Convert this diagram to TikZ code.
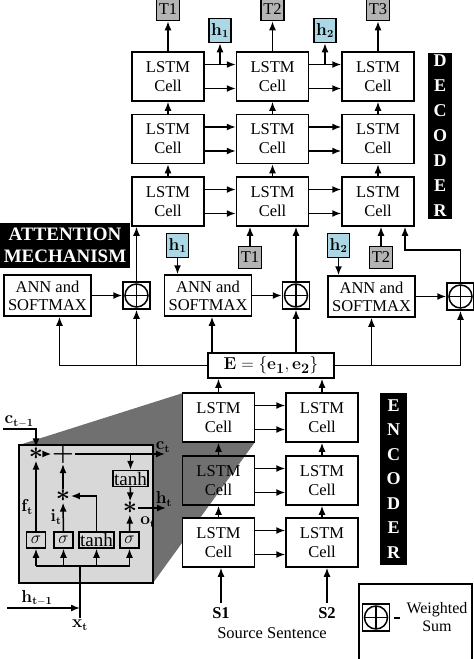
\documentclass[tikz,border=0pt]{standalone}
\usepackage[no-math]{fontspec}
\setmainfont{Liberation Serif}
\usepackage{amsmath}
\usepackage{amssymb}
\usepackage{bm}
\usetikzlibrary{calc,positioning,arrows.meta}

\definecolor{tgray}{RGB}{180,180,180}
\definecolor{hblue}{RGB}{172,216,230}
\definecolor{zoomdark}{RGB}{112,112,112}
\definecolor{zoomlight}{RGB}{216,216,216}

\tikzset{
  arr/.style={-{Latex[length=9pt,width=7pt]}},
  cell/.style={draw,fill=white,minimum width=72pt,minimum height=49pt,inner sep=0pt,align=center},
  annbox/.style={draw,fill=white,minimum width=87pt,minimum height=41pt,inner sep=0pt,align=center,font=\fontsize{16.5}{18}\selectfont},
  tbox/.style={draw,fill=tgray,minimum width=23pt,minimum height=22pt,inner sep=0pt},
  hbox/.style={draw,fill=hblue,minimum width=22pt,minimum height=24pt,inner sep=0pt,font=\fontsize{16}{16}\selectfont},
  wsum/.style={draw,fill=white,minimum width=27pt,minimum height=27pt,inner sep=0pt,
    path picture={
      \coordinate (pc) at (path picture bounding box.center);
      \draw (pc) circle (11.5pt);
      \draw ([yshift=11.5pt]pc) -- ([yshift=-11.5pt]pc);
      \draw ([xshift=-11.5pt]pc) -- ([xshift=11.5pt]pc);
    }},
  blk/.style={fill=black,text=white,inner sep=0pt,align=center},
  gate/.style={draw,minimum width=19pt,minimum height=16pt,inner sep=1pt,font=\fontsize{19}{19}\selectfont},
  op/.style={inner sep=0pt,minimum size=10pt,font=\fontsize{28}{28}\selectfont},
  lbl/.style={inner sep=1pt,font=\fontsize{16}{16}\selectfont}
}

\begin{document}
\begin{tikzpicture}[x=1pt,y=-1pt,line width=1.5pt,font=\fontsize{16.5}{19}\selectfont]
    \useasboundingbox (0,0) rectangle (474,659);

    % zoom shading behind the encoder
    \fill[zoomdark] (19,445) -- (183,393) -- (255,442) -- (153,583) -- cycle;
    \draw[fill=zoomlight] (19,445) rectangle (153,583);

    % decoder
    \foreach \c/\x in {1/168,2/272.5,3/378}{
      \foreach \r/\y in {1/76.5,2/139,3/201.5}{
        \node[cell] (d\r\c) at (\x,\y) {LSTM\\Cell};
      }
    }
    \foreach \r in {1,2,3}{
      \foreach \c/\n in {1/2,2/3}{
        \draw[arr] ([yshift=12pt]d\r\c.east) -- ([yshift=12pt]d\r\n.west);
        \draw[arr] ([yshift=-12pt]d\r\c.east) -- ([yshift=-12pt]d\r\n.west);
      }
    }
    \foreach \c/\t in {1/T1,2/T2,3/T3}{
      \draw[arr] (d3\c) -- (d2\c);
      \draw[arr] (d2\c) -- (d1\c);
      \node[tbox,above=30pt of d1\c] (t\c) {\t};
      \draw[arr] (d1\c) -- (t\c);
    }
    \node[hbox] (h1a) at (220,30.5) {$\mathbf{h_1}$};
    \node[hbox] (h2a) at (325,30.5) {$\mathbf{h_2}$};
    \coordinate (o1) at ([yshift=12pt]d11.east);
    \coordinate (o2) at ([yshift=12pt]d12.east);
    \draw[arr] (o1 -| h1a) -- (h1a);
    \draw[arr] (o2 -| h2a) -- (h2a);
    \node[blk,minimum width=24pt,minimum height=166pt,font=\bfseries\fontsize{18}{25}\selectfont] (dec) at (440,136) {D\\E\\C\\O\\D\\E\\R};

    % attention
    \node[blk,minimum width=130pt,minimum height=45pt,font=\bfseries\fontsize{19}{22}\selectfont] (att) at (65,245.5) {ATTENTION\\MECHANISM};
    \node[annbox] (ann1) at (47.5,295.5) {ANN and\\SOFTMAX};
    \node[annbox] (ann2) at (208,295.5) {ANN and\\SOFTMAX};
    \node[annbox] (ann3) at (371.5,296.5) {ANN and\\SOFTMAX};
    \node[wsum] (s1) at (136.5,295.5) {};
    \node[wsum] (s2) at (296,295.5) {};
    \node[wsum] (s3) at (460.5,296.5) {};
    \foreach \i in {1,2,3}{
      \draw[arr] (ann\i) -- (s\i);
    }
    \node[hbox] (h1b) at (177.5,245.5) {$\mathbf{h_1}$};
    \node[hbox] (h2b) at (338.5,245.5) {$\mathbf{h_2}$};
    \node[tbox] (t1b) at (250,257.5) {T1};
    \node[tbox] (t2b) at (381,257.5) {T2};
    \draw[arr] (h1b) -- (h1b |- ann2.north);
    \draw[arr] (h2b) -- (h2b |- ann3.north);
    \draw[arr] (t1b) -- (t1b |- d32.south);
    \draw[arr] (t2b) -- (t2b |- d33.south);
    \draw[arr] (s1) -- (s1 |- d31.south);
    \draw[arr] (s2) -- (s2 |- d32.south);
    \coordinate (turn) at (405,250);
    \draw[arr] (s3.north) |- (turn) -- (turn |- d33.south);

    \node[draw,fill=white,minimum width=126pt,minimum height=25pt,inner sep=0pt,font=\fontsize{19}{21}\selectfont] (E) at (271,365.5) {$\mathbf{E}=\{\mathbf{e_1},\mathbf{e_2}\}$};
    \coordinate (eA) at ([xshift=-59pt]E.north);
    \draw[arr] (E.west) -| ([xshift=12pt]ann1.south);
    \draw[arr] (s1 |- E.west) -- (s1.south);
    \draw[arr] (eA) -- (eA |- ann2.south);
    \draw[arr] (s2 |- E.north) -- (s2.south);
    \draw[arr] (E.east) -| (s3.south);
    \draw[arr] (ann3 |- E.east) -- (ann3.south);

    % encoder
    \foreach \c/\x in {1/218.5,2/322}{
      \node[cell] (e1\c) at (\x,417.5) {LSTM\\Cell};
      \node[cell] (e3\c) at (\x,542.5) {LSTM\\Cell};
    }
    \node[cell,fill=none] (e21) at (218.5,480.5) {LSTM\\Cell};
    \node[cell] (e22) at (322,480.5) {LSTM\\Cell};
    \foreach \r in {1,2,3}{
      \draw[arr] ([yshift=12pt]e\r1.east) -- ([yshift=12pt]e\r2.west);
      \draw[arr] ([yshift=-12pt]e\r1.east) -- ([yshift=-12pt]e\r2.west);
    }
    \foreach \c in {1,2}{
      \draw[arr] (e3\c) -- (e2\c);
      \draw[arr] (e2\c) -- (e1\c);
      \draw[arr] (e1\c) -- (e1\c |- E.south);
    }
    \node[font=\bfseries\fontsize{16.5}{19}\selectfont] (S1) at (221,613) {S1};
    \node[font=\bfseries\fontsize{16.5}{19}\selectfont] (S2) at (327,613) {S2};
    \draw[arr] (S1) -- (S1 |- e31.south);
    \draw[arr] (S2) -- (S2 |- e32.south);
    \node (src) at (272,633) {Source Sentence};
    \node[blk,minimum width=27pt,minimum height=172pt,font=\bfseries\fontsize{18}{24.5}\selectfont] (enc) at (393.5,479) {E\\N\\C\\O\\D\\E\\R};

    % inside of one cell
    \node[gate] (g1) at (36,540) {$\sigma$};
    \node[gate] (g2) at (63.5,540) {$\sigma$};
    \node[gate] (g3) at (96.5,540) {tanh};
    \node[gate] (g4) at (129.5,540) {$\sigma$};
    \node[gate] (g5) at (130.5,478.5) {tanh};
    \node[op] (m1) at (36,454) {$\bm{\ast}$};
    \node[op] (a1) at (63,454) {$\bm{+}$};
    \node[op] (m3) at (63,496) {$\bm{\ast}$};
    \node[op] (m2) at (130,508) {$\bm{\ast}$};

    \coordinate (bus) at (80,566);
    \coordinate (xin) at (80,618);
    \coordinate (hin) at (7,608);
    \coordinate (cin) at (3,429);
    \coordinate (cout) at (165,454);
    \coordinate (hout) at (166,508);
    \draw (xin) -- (bus);
    \draw (g1 |- bus) -- (g4 |- bus);
    \foreach \g in {1,...,4}{
      \draw[arr] (g\g |- bus) -- (g\g);
    }
    \draw[arr] (hin) -- (hin -| xin);
    \node[lbl] (hl) at (37,598) {$\mathbf{h_{t-1}}$};
    \node[lbl,below] (xl) at (xin) {$\mathbf{x_t}$};
    \draw[arr] (cin) -| (m1);
    \node[lbl,anchor=south west] (cl) at (cin) {$\mathbf{c_{t-1}}$};
    \draw[arr] (m1) -- (a1);
    \draw[arr] (a1) -- (cout);
    \node[lbl,anchor=south] (ctl) at ([xshift=-2pt]cout) {$\mathbf{c_t}$};
    \draw[arr] (g5 |- cout) -- (g5);
    \draw[arr] (g5) -- (m2);
    \draw[arr] (m2) -- (hout);
    \node[lbl,anchor=south] (htl) at ([xshift=-2pt]hout) {$\mathbf{h_t}$};
    \draw[arr] (g4) -- (m2);
    \node[lbl] (otl) at (148,522) {$\mathbf{o_t}$};
    \draw[arr] (g1) -- (m1);
    \node[lbl] (ftl) at (27,507) {$\mathbf{f_t}$};
    \draw[arr] (g2) -- (m3);
    \node[lbl] (itl) at (56,517) {$\mathbf{i_t}$};
    \draw[arr] (g3) |- (m3);
    \draw[arr] (m3) -- (a1);

    % legend
    \draw (359,584) rectangle (472,670);
    \node[wsum] (lg) at (376,617.5) {};
    \draw[line width=2.5pt] (394,618) -- (400,618);
    \node[align=center,font=\fontsize{16}{18}\selectfont] (lgt) at (437,617) {Weighted\\Sum};
\end{tikzpicture}
\end{document}
